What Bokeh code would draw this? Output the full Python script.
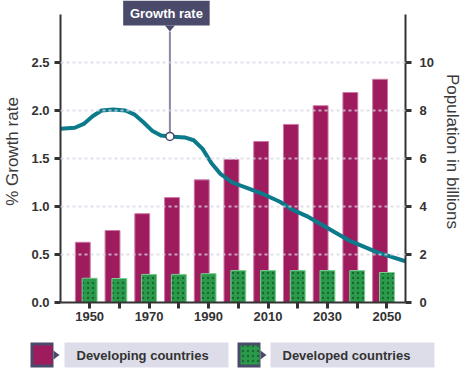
from bokeh.plotting import figure
from bokeh.models import Range1d, LinearAxis, FixedTicker, PrintfTickFormatter
from bokeh.layouts import column
from bokeh.core.properties import value
from bokeh.embed import file_html
from bokeh.resources import INLINE

# ---------------- data ----------------
years = [1950, 1960, 1970, 1980, 1990, 2000, 2010, 2020, 2030, 2040, 2050]
developing = [2.51, 3.0, 3.7, 4.37, 5.11, 5.96, 6.71, 7.42, 8.2, 8.75, 9.3]
developed = [1.01, 1.0, 1.17, 1.17, 1.2, 1.33, 1.33, 1.33, 1.33, 1.33, 1.25]

growth_years = [1940.2, 1945, 1948, 1951, 1954, 1958, 1962, 1965, 1968, 1971, 1974,
                1977, 1982, 1985, 1988, 1991, 1994, 1998, 2004, 2009, 2014, 2018,
                2023, 2037, 2047, 2056.3]
growth_rate = [1.81, 1.82, 1.86, 1.94, 2.0, 2.01, 2.0, 1.96, 1.88, 1.79, 1.74,
               1.73, 1.72, 1.69, 1.60, 1.45, 1.34, 1.25, 1.18, 1.12, 1.05, 0.97,
               0.90, 0.65, 0.52, 0.43]

x_ticks = [1950, 1960, 1970, 1980, 1990, 2000, 2010, 2020, 2030, 2040, 2050]
x_labels = {1950: "1950", 1970: "1970", 1990: "1990", 2010: "2010", 2030: "2030", 2050: "2050"}
rate_ticks = [0.0, 0.5, 1.0, 1.5, 2.0, 2.5]
pop_ticks = [0, 2, 4, 6, 8, 10]

callout_text = "Growth rate"
callout_year = 1977
legend_labels = ["Developing countries", "Developed countries"]

# ---------------- styles ----------------
FONT = "Liberation Sans"
DARK = "#4a4a6b"
LAVENDER = "#dddde9"
MAGENTA = "#9e1c5e"
MAGENTA_EDGE = "#cf78a6"
GREEN = "#2b9b4b"
GREEN_EDGE = "#7ccb93"
GREEN_DOT = "#145a2b"
TEAL = "#0b7a8b"
AXIS = "#333333"

W, H = 464, 338
BL, BR, BT, BB = 60, 57, 0, 36
FW, FH = W - BL - BR, H - BT - BB
X0, X1 = 1940.2, 2056.25
Y_RATE_TOP = FH / 96.0
Y_POP_TOP = Y_RATE_TOP * 4

px_x = FW / (X1 - X0)
px_y = FH / Y_RATE_TOP

p = figure(width=W, height=H, output_backend="svg", toolbar_location=None,
           x_range=Range1d(X0, X1), y_range=Range1d(0, Y_RATE_TOP),
           min_border_left=BL, min_border_right=BR, min_border_top=BT,
           min_border_bottom=BB, outline_line_color=None,
           background_fill_color="white", border_fill_color="white")
p.frame_align = False
p.extra_y_ranges = {"pop": Range1d(0, Y_POP_TOP)}

# axes
p.xaxis.ticker = FixedTicker(ticks=x_ticks)
p.xaxis.major_label_overrides = {t: x_labels.get(t, "") for t in x_ticks}
p.yaxis.ticker = FixedTicker(ticks=rate_ticks)
p.yaxis.formatter = PrintfTickFormatter(format="%.1f")
p.yaxis.bounds = (0, 3)
p.yaxis.axis_label = "% Growth rate"

right = LinearAxis(y_range_name="pop", ticker=FixedTicker(ticks=pop_ticks),
                   bounds=(0, 12), axis_label="Population in billions")
p.add_layout(right, "right")

for ax in [p.xaxis[0], p.yaxis[0], right]:
    ax.axis_line_color = AXIS
    ax.axis_line_width = 2
    ax.major_tick_line_color = AXIS
    ax.major_tick_line_width = 3
    ax.major_tick_in = 0
    ax.major_tick_out = 6
    ax.minor_tick_line_color = None
    ax.major_label_text_font = FONT
    ax.major_label_text_font_size = "13px"
    ax.major_label_text_font_style = "bold"
    ax.major_label_text_color = AXIS
    ax.axis_label_text_font = FONT
    ax.axis_label_text_font_size = "17px"
    ax.axis_label_text_font_style = "normal"
    ax.axis_label_text_color = "#3a3a3a"
p.xaxis.major_label_standoff = 3
p.yaxis.major_label_standoff = 5
p.yaxis.axis_label_standoff = 6
right.major_label_standoff = 8
right.axis_label_standoff = 6

p.xgrid.grid_line_color = None
p.ygrid.ticker = FixedTicker(ticks=rate_ticks[1:])
p.ygrid.grid_line_color = "#d6d6e4"
p.ygrid.grid_line_alpha = 0.75
p.ygrid.grid_line_width = 2
p.ygrid.grid_line_dash = "3 3"
p.ygrid.level = "overlay"

# bars
dev_offset = -2.3
p.vbar(x=[y + dev_offset for y in years], top=developing, bottom=0, width=5,
       y_range_name="pop", fill_color=MAGENTA, line_color=MAGENTA_EDGE, line_width=1)
p.vbar(x=years, top=developed, bottom=0, width=5, y_range_name="pop",
       fill_color=GREEN, line_color=GREEN_EDGE, line_width=1,
       hatch_pattern="dot", hatch_color=GREEN_DOT, hatch_scale=5, hatch_weight=1.5,
       hatch_alpha=0.8)

# growth line
p.line(growth_years, growth_rate, line_color=TEAL, line_width=4, line_join="round",
       line_cap="round")

# callout
ai = growth_years.index(callout_year)
ax_, ay_ = growth_years[ai], growth_rate[ai]
box_l = ax_ - 47 / px_x
box_r = ax_ + 40 / px_x
box_t = Y_RATE_TOP
box_b = Y_RATE_TOP - 25 / px_y
tip_y = box_b - 6 / px_y
p.segment(x0=[ax_], y0=[tip_y], x1=[ax_], y1=[ay_], line_color="#8a8aa4", line_width=2)
p.quad(left=[box_l], right=[box_r], top=[box_t], bottom=[box_b], fill_color=DARK,
       line_color=None)
p.patch([ax_ - 5 / px_x, ax_ + 5 / px_x, ax_], [box_b, box_b, tip_y], fill_color=DARK,
        line_color=None)
p.text(x=[(box_l + box_r) / 2], y=[(box_t + box_b) / 2], text=[callout_text],
       text_color="white", text_font=value(FONT), text_font_size="13px",
       text_font_style="bold", text_align="center", text_baseline="middle")
p.scatter([ax_], [ay_], size=8, fill_color="white", line_color=DARK, line_width=1.5)

# ---------------- legend strip ----------------
LH = 30
lg = figure(width=W, height=LH, output_backend="svg", toolbar_location=None,
            x_range=Range1d(0, W), y_range=Range1d(0, LH), min_border=0,
            x_axis_location=None, y_axis_location=None,
            outline_line_color=None, background_fill_color="white",
            border_fill_color="white")
lg.frame_align = False
lg.grid.visible = False

starts = [30, 237]
label_boxes = [(64, 228), (270, 434)]
swatch = [dict(fill_color=MAGENTA), dict(fill_color=GREEN, hatch_pattern="dot",
                                          hatch_color=GREEN_DOT, hatch_scale=5,
                                          hatch_weight=1.5, hatch_alpha=0.8)]
yb, yt = 1, 26
ym = (yb + yt) / 2
for i, s in enumerate(starts):
    lg.quad(left=[s], right=[s + 23], bottom=[yb], top=[yt], fill_color=DARK,
            line_color=None)
    lg.patch([s + 23, s + 23, s + 29], [ym + 4.5, ym - 4.5, ym],
             fill_color=DARK, line_color=None)
    lg.quad(left=[s + 3], right=[s + 22], bottom=[yb + 3], top=[yt - 3],
            line_color=None, **swatch[i])
    l0, l1 = label_boxes[i]
    lg.quad(left=[l0], right=[l1], bottom=[yb], top=[yt], fill_color=LAVENDER,
            line_color=None)
    lg.text(x=[l0 + 12], y=[ym], text=[legend_labels[i]], text_color=AXIS,
            text_font=value(FONT), text_font_size="13px", text_font_style="bold",
            text_align="left", text_baseline="middle")

layout = column(p, lg, spacing=0)
open("out.html", "w").write(file_html(layout, INLINE))
